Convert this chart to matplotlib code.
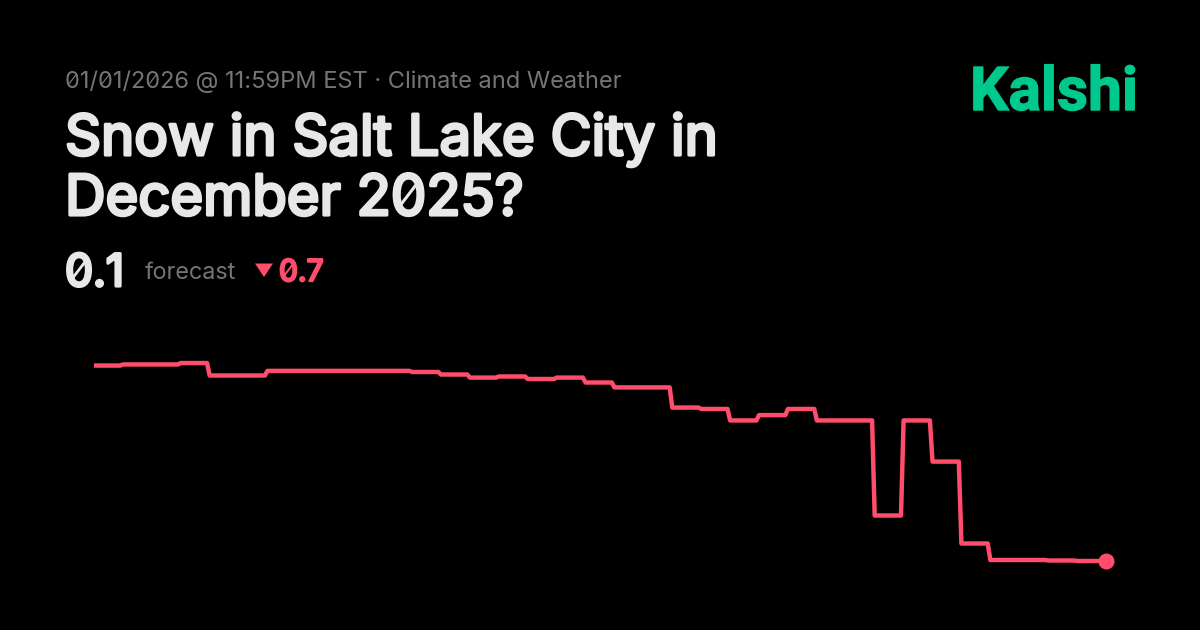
"""Kalshi share card: forecast line for snow in Salt Lake City"""
import matplotlib
matplotlib.use("Agg")
import numpy as np
import matplotlib.pyplot as plt
import matplotlib.patheffects as pe
from matplotlib.lines import Line2D
from matplotlib.patches import Polygon

# value held over each period of the series
forecast = [0.798, 0.802, 0.802, 0.807, 0.7625, 0.7625, 0.779, 0.779, 0.779, 0.779,
            0.779, 0.775, 0.766, 0.755, 0.759, 0.75, 0.755, 0.7375, 0.72, 0.72,
            0.648, 0.643, 0.602, 0.621, 0.643, 0.602, 0.602, 0.2625, 0.602, 0.455,
            0.1625, 0.1036, 0.1036, 0.1018, 0.1]
last_value = 0.1

date_text = "01/01/2026 @ 11:59PM EST · Climate and Weather"
title_lines = ["Snow in Salt Lake City in", "December 2025?"]
current_text = "0.1"
unit_text = "forecast"
change_text = "0.7"
brand_text = "Kalshi"

W, H = 1200, 630
RED = "#FF4D6B"
GREY = "#757575"
WHITE = "#E8E8E8"
GREEN = "#00C98D"
RISER = 0.09  # width of each step change, in periods

plt.rcParams["font.family"] = ["Inter", "DejaVu Sans"]


def put_text(fig, x, y, s, px, color, stroke=0, family=None, weight="normal"):
    """ Place text with its baseline at pixel (x, y) from the top left """
    t = fig.text(x / W, 1 - y / H, s, fontsize=px * 0.72, color=color, ha="left",
                 va="baseline", fontweight=weight)
    if family:
        t.set_fontfamily(family)
    if stroke:
        # only a regular Inter is available, so thicken it with an outline
        t.set_path_effects([pe.withStroke(linewidth=stroke, foreground=color)])
    return t


def slash_zeros(fig, t, x, y, px, color, lw):
    """ The reference font has slashed zeros, draw the slash over each 0 """
    rend = fig.canvas.get_renderer()
    s = t.get_text()
    prop = t.get_fontproperties()
    for i, ch in enumerate(s):
        if ch != "0":
            continue
        x0 = x + rend.get_text_width_height_descent(s[:i], prop, False)[0] if i else x
        w = rend.get_text_width_height_descent("0", prop, False)[0]
        xs = [(x0 + w * 0.3) / W, (x0 + w * 0.7) / W]
        ys = [1 - (y - px * 0.2) / H, 1 - (y - px * 0.53) / H]
        fig.add_artist(Line2D(xs, ys, color=color, linewidth=lw, transform=fig.transFigure))


fig = plt.figure(figsize=(12, 6.3), dpi=100, facecolor="black")

""" Header text """
date = put_text(fig, 65, 88, date_text, 23.6, GREY)
slash_zeros(fig, date, 65, 88, 23.6, GREY, 0.9)
put_text(fig, 65, 155, title_lines[0], 56.2, WHITE, stroke=2.3)
line2 = put_text(fig, 65, 215, title_lines[1], 56.2, WHITE, stroke=2.3)
slash_zeros(fig, line2, 65, 215, 56.2, WHITE, 2.2)
cur = put_text(fig, 65, 286, current_text, 44.5, WHITE, stroke=2.3)
slash_zeros(fig, cur, 65, 286, 44.5, WHITE, 2.0)
put_text(fig, 145, 279, unit_text, 23.4, GREY)
chg = put_text(fig, 279, 281, change_text, 30, RED, stroke=1.7)
slash_zeros(fig, chg, 279, 281, 30, RED, 1.4)
put_text(fig, 970, 110, brand_text, 60.5, GREEN, stroke=1.0, family="Roboto", weight="bold")

""" Down triangle beside the change """
fig.add_artist(Polygon([(255 / W, 1 - 263.5 / H), (273 / W, 1 - 263.5 / H), (264 / W, 1 - 277 / H)],
                       closed=True, transform=fig.transFigure, facecolor=RED, edgecolor="none"))

""" Forecast line """
ax = fig.add_axes([94 / W, 1 - 561 / H, 1012 / W, 196 / H])
ax.set_xlim(0, len(forecast))
ax.set_ylim(0.1, 0.8)
ax.axis("off")

x_line = [0.0]
y_line = [forecast[0]]
for i, v in enumerate(forecast):
    if i > 0:
        x_line.append(i)
        y_line.append(v)
    x_line.append(i + 1 - RISER)
    y_line.append(v)
x_line.append(len(forecast))
y_line.append(last_value)

ax.plot(np.array(x_line), np.array(y_line), color=RED, linewidth=3.2,
        solid_joinstyle="round", solid_capstyle="butt", clip_on=False)
ax.plot([len(forecast)], [last_value], marker="o", markersize=11.5, color=RED,
        markeredgewidth=0, clip_on=False)

fig.savefig("out.png", dpi=100, facecolor="black")
